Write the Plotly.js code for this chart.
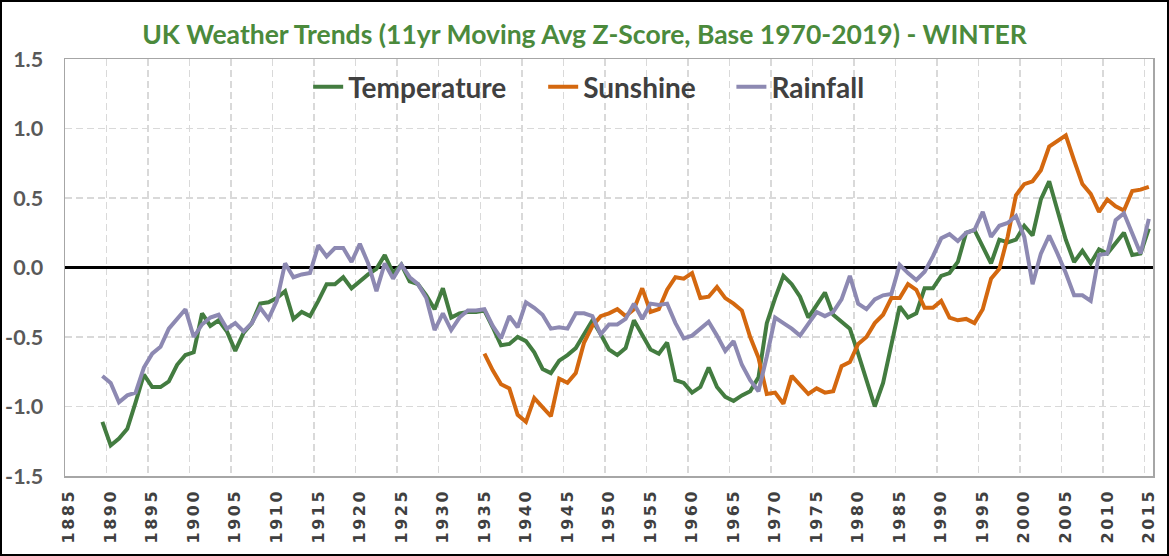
<!DOCTYPE html>
<html>
<head>
<meta charset="utf-8">
<script src="https://cdn.plot.ly/plotly-3.0.1.min.js"></script>
<style>
  html, body { margin: 0; padding: 0; background: #fff; }
  #chart { width: 1169px; height: 556px; position: relative; }
  #frame { position: absolute; left: 0; top: 0; width: 1169px; height: 556px;
           box-sizing: border-box; border: 2px solid #000; pointer-events: none; }
  .xtick text { letter-spacing: 2.5px; }
</style>
</head>
<body>
<div id="chart"></div>
<div id="frame"></div>
<script>
// Winter 11-year moving average z-scores (base period 1970-2019)
const startYear = 1889;      // first year of temperature and rainfall series
const sunStartYear = 1935;   // first year of sunshine series

const temperature = [
  -1.11, -1.28, -1.23, -1.16, -0.97, -0.77, -0.86, -0.86, -0.82, -0.70, // 1889-1898
  -0.63, -0.61, -0.33, -0.42, -0.38, -0.46, -0.60, -0.47, -0.40, -0.26, // 1899-1908
  -0.25, -0.22, -0.17, -0.37, -0.32, -0.35, -0.24, -0.12, -0.12, -0.07, // 1909-1918
  -0.15, -0.10, -0.05, -0.01,  0.09, -0.04,  0.02, -0.10, -0.12, -0.20, // 1919-1928
  -0.30, -0.15, -0.36, -0.33, -0.32, -0.32, -0.31, -0.43, -0.56, -0.55, // 1929-1938
  -0.50, -0.53, -0.61, -0.73, -0.76, -0.67, -0.63, -0.58, -0.48, -0.38, // 1939-1948
  -0.48, -0.59, -0.63, -0.58, -0.38, -0.48, -0.59, -0.62, -0.54, -0.81, // 1949-1958
  -0.83, -0.90, -0.86, -0.72, -0.86, -0.93, -0.96, -0.92, -0.89, -0.79, // 1959-1968
  -0.40, -0.22, -0.06, -0.12, -0.21, -0.36, -0.27, -0.18, -0.34, -0.39, // 1969-1978
  -0.44, -0.62, -0.82, -1.00, -0.83, -0.56, -0.28, -0.36, -0.33, -0.15, // 1979-1988
  -0.15, -0.06, -0.04,  0.04,  0.25,  0.27,  0.15,  0.03,  0.20,  0.18, // 1989-1998
   0.20,  0.30,  0.23,  0.49,  0.62,  0.42,  0.20,  0.04,  0.12,  0.03, // 1999-2008
   0.13,  0.10,  0.17,  0.25,  0.09,  0.10,  0.28                        // 2009-2015
];

const sunshine = [
  -0.62, -0.74, -0.84, -0.87, -1.06, -1.11, -0.94, -1.00, -1.07, -0.80, // 1935-1944
  -0.83, -0.76, -0.54, -0.42, -0.35, -0.33, -0.30, -0.35, -0.30, -0.15, // 1945-1954
  -0.32, -0.30, -0.16, -0.07, -0.08, -0.04, -0.22, -0.21, -0.14, -0.22, // 1955-1964
  -0.26, -0.31, -0.50, -0.65, -0.91, -0.90, -0.98, -0.78, -0.85, -0.91, // 1965-1974
  -0.87, -0.90, -0.89, -0.71, -0.68, -0.55, -0.50, -0.40, -0.34, -0.22, // 1975-1984
  -0.22, -0.12, -0.16, -0.29, -0.29, -0.24, -0.36, -0.38, -0.37, -0.40, // 1985-1994
  -0.30, -0.08, -0.01,  0.22,  0.52,  0.60,  0.62,  0.70,  0.87,  0.91, // 1995-2004
   0.95,  0.77,  0.60,  0.53,  0.40,  0.49,  0.44,  0.41,  0.55,  0.56, // 2005-2014
   0.58                                                                 // 2015
];

const rainfall = [
  -0.78, -0.83, -0.97, -0.92, -0.90, -0.72, -0.62, -0.57, -0.44, -0.37, // 1889-1898
  -0.30, -0.50, -0.41, -0.36, -0.34, -0.44, -0.40, -0.46, -0.40, -0.29, // 1899-1908
  -0.37, -0.24,  0.03, -0.07, -0.05, -0.04,  0.16,  0.08,  0.14,  0.14, // 1909-1918
   0.04,  0.17,  0.03, -0.17,  0.03, -0.08,  0.02, -0.07, -0.12, -0.22, // 1919-1928
  -0.45, -0.33, -0.45, -0.36, -0.31, -0.31, -0.30, -0.42, -0.51, -0.35, // 1929-1938
  -0.43, -0.25, -0.29, -0.34, -0.44, -0.43, -0.44, -0.33, -0.33, -0.35, // 1939-1948
  -0.48, -0.41, -0.41, -0.37, -0.26, -0.37, -0.26, -0.27, -0.26, -0.40, // 1949-1958
  -0.51, -0.49, -0.44, -0.39, -0.49, -0.60, -0.53, -0.70, -0.81, -0.89, // 1959-1968
  -0.64, -0.36, -0.40, -0.44, -0.49, -0.41, -0.32, -0.35, -0.32, -0.23, // 1969-1978
  -0.06, -0.26, -0.30, -0.23, -0.20, -0.19,  0.02, -0.04, -0.09, -0.03, // 1979-1988
   0.08,  0.21,  0.24,  0.19,  0.25,  0.27,  0.40,  0.22,  0.30,  0.32, // 1989-1998
   0.37,  0.22, -0.12,  0.10,  0.23,  0.10, -0.04, -0.20, -0.20, -0.24, // 1999-2008
   0.09,  0.10,  0.34,  0.39,  0.25,  0.10,  0.35                        // 2009-2015
];

const seriesNames = ['Temperature', 'Sunshine', 'Rainfall'];
const seriesColors = ['#437c40', '#d4680f', '#8d89b2'];
const legendIds = ['legend', 'legend2', 'legend3'];
const legendLeft = [0.2235, 0.4395, 0.6125];   // left edge of each legend entry, plot fraction

const yTickVals = [-1.5, -1.0, -0.5, 0, 0.5, 1.0, 1.5];
const yTickText = ['-1.5', '-1.0', '-0.5', '0.0', '0.5', '1.0', '1.5'];

const chartTitle = 'UK Weather Trends (11yr Moving Avg Z-Score, Base 1970-2019) - WINTER';

// Year categories for each series
const years = temperature.map((_, i) => startYear + i);
const sunYears = sunshine.map((_, i) => sunStartYear + i);

const seriesX = [years, sunYears, years];
const seriesY = [temperature, sunshine, rainfall];

const traces = seriesNames.map((name, i) => ({
  type: 'scatter',
  mode: 'lines',
  name: name,
  x: seriesX[i],
  y: seriesY[i],
  legend: legendIds[i],
  line: { color: seriesColors[i], width: 4, shape: 'linear' },
  hoverinfo: 'skip'
}));

const gridColor = '#d9d9d9';
const gridDash = '7px,4px';
const frameColor = '#a6a6a6';
const labelFont = 'Lato, "Open Sans", sans-serif';

const layout = {
  width: 1169,
  height: 556,
  margin: { l: 65, r: 16, t: 59, b: 80, pad: 0 },
  paper_bgcolor: '#ffffff',
  plot_bgcolor: '#ffffff',
  showlegend: true,
  title: {
    text: chartTitle,
    font: { family: labelFont, size: 26.5, color: '#4b8a3c', weight: 700 },
    x: 0.5, xref: 'container', xanchor: 'center',
    y: 1 - 35 / 556, yref: 'container', yanchor: 'middle'
  },
  xaxis: {
    range: [1884.5, 2015.5],
    tickmode: 'linear', tick0: 1885, dtick: 5,
    tickangle: -90,
    showgrid: false,
    zeroline: false,
    showline: true, linecolor: frameColor, linewidth: 1.5, mirror: true,
    ticks: '',
    ticklabelstandoff: 5,
    tickfont: { family: '"DejaVu Sans", sans-serif', size: 16, color: '#404040', weight: 700 },
    minor: {
      tickmode: 'linear', tick0: 1889.5, dtick: 5,
      showgrid: true, gridcolor: gridColor, gridwidth: 1.5, griddash: gridDash,
      ticks: ''
    },
    fixedrange: true
  },
  yaxis: {
    range: [-1.5, 1.5],
    tickmode: 'array', tickvals: yTickVals, ticktext: yTickText,
    showgrid: true, gridcolor: gridColor, gridwidth: 1.5, griddash: gridDash,
    zeroline: true, zerolinecolor: '#000000', zerolinewidth: 3,
    showline: true, linecolor: frameColor, linewidth: 1.5, mirror: true,
    ticks: '',
    ticklabelstandoff: 16,
    tickfont: { family: labelFont, size: 21.5, color: '#595959', weight: 700 },
    fixedrange: true
  }
};

// One legend box per series so each entry sits at its own position
legendIds.forEach((id, i) => {
  layout[id] = {
    orientation: 'h',
    x: legendLeft[i], xanchor: 'left',
    y: 0.933, yanchor: 'middle',
    bgcolor: 'rgba(0,0,0,0)',
    borderwidth: 0,
    font: { family: labelFont, size: 28, color: '#404040', weight: 700 },
    itemwidth: 30
  };
});

Plotly.newPlot('chart', traces, layout, { displayModeBar: false, staticPlot: true });
</script>
</body>
</html>
